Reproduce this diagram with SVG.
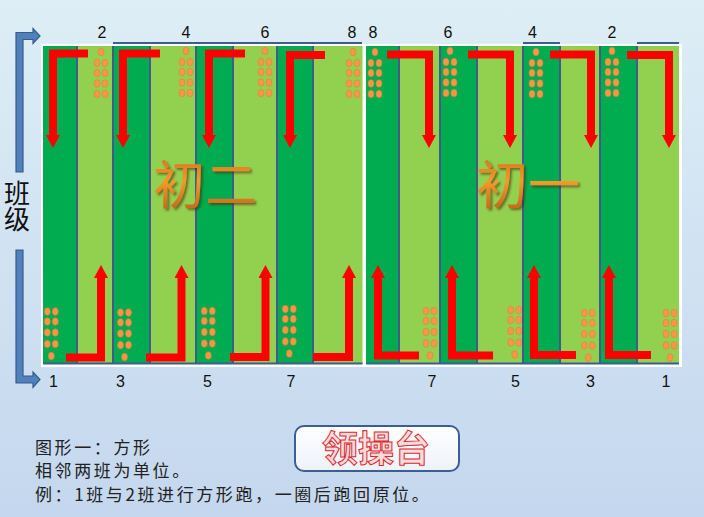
<svg xmlns="http://www.w3.org/2000/svg" width="704" height="517" viewBox="0 0 704 517">
<defs>
  <linearGradient id="bg" x1="0" y1="0" x2="0" y2="1">
    <stop offset="0" stop-color="#ddeef6"/>
    <stop offset="1" stop-color="#c4d7ee"/>
  </linearGradient>
  <linearGradient id="gold" x1="0" y1="0" x2="0" y2="1">
    <stop offset="0" stop-color="#c8621a"/>
    <stop offset="0.5" stop-color="#f39a2c"/>
    <stop offset="1" stop-color="#b4561a"/>
  </linearGradient>
  <linearGradient id="btn" x1="0" y1="0" x2="0" y2="1">
    <stop offset="0" stop-color="#ffffff"/>
    <stop offset="1" stop-color="#eef2f8"/>
  </linearGradient>
  <filter id="sh" x="-10%" y="-10%" width="130%" height="130%">
    <feDropShadow dx="2" dy="2" stdDeviation="0.8" flood-color="#4a2206" flood-opacity="0.55"/>
  </filter>
  <marker id="ah" markerUnits="userSpaceOnUse" markerWidth="14" markerHeight="14" refX="0" refY="7" orient="auto">
    <path d="M0,0 L13,7 L0,14 Z" fill="#ff0000"/>
  </marker>
  <g id="dotsTop">
    <ellipse cx="0" cy="0" rx="3" ry="3.8"/>
    <ellipse cx="-4" cy="11" rx="3" ry="3.8"/><ellipse cx="4" cy="11" rx="3" ry="3.8"/>
    <ellipse cx="-4" cy="21" rx="3" ry="3.8"/><ellipse cx="4" cy="21" rx="3" ry="3.8"/>
    <ellipse cx="-4" cy="31.5" rx="3" ry="3.8"/><ellipse cx="4" cy="31.5" rx="3" ry="3.8"/>
    <ellipse cx="-4" cy="42" rx="3" ry="3.8"/><ellipse cx="4" cy="42" rx="3" ry="3.8"/>
  </g>
  <g id="dotsBot">
    <ellipse cx="-4" cy="0" rx="3" ry="3.8"/><ellipse cx="4" cy="0" rx="3" ry="3.8"/>
    <ellipse cx="-4" cy="10" rx="3" ry="3.8"/><ellipse cx="4" cy="10" rx="3" ry="3.8"/>
    <ellipse cx="-4" cy="21" rx="3" ry="3.8"/><ellipse cx="4" cy="21" rx="3" ry="3.8"/>
    <ellipse cx="-4" cy="32.5" rx="3" ry="3.8"/><ellipse cx="4" cy="32.5" rx="3" ry="3.8"/>
    <ellipse cx="0" cy="44.5" rx="3" ry="3.8"/>
  </g>
</defs>
<style>
  .dk { fill: #00ac4f; }
  .lt { fill: #92d050; }
  .div { stroke: #3f5b8f; stroke-width: 2; fill: none; }
  .dots { fill: #f79646; stroke: #e47a35; stroke-width: 0.5; }
  .run { fill: none; stroke: #ff0000; stroke-width: 8; stroke-linejoin: miter; marker-end: url(#ah); }
  .num { font-family: "Liberation Sans", Arial, sans-serif; font-size: 16px; fill: #111; text-anchor: middle; }
  .cjk { font-family: "Noto Sans CJK SC", sans-serif; }
  .note { font-family: "Noto Sans CJK SC", sans-serif; font-size: 17px; fill: #222; letter-spacing: 2.6px; }
  .br { fill: #4f81bd; stroke: #385d8a; stroke-width: 1.2; stroke-linejoin: miter; }
  .vert { writing-mode: vertical-rl; }
</style>

<rect x="0" y="0" width="704" height="517" fill="url(#bg)"/>

<!-- field -->
<g id="field">
  <rect x="41" y="44" width="641" height="323" fill="#ffffff"/>
  <rect class="dk" x="43" y="46" width="34" height="318"/>
  <rect class="lt" x="77" y="46" width="36" height="318"/>
  <rect class="dk" x="113" y="46" width="37" height="318"/>
  <rect class="lt" x="150" y="46" width="46" height="318"/>
  <rect class="dk" x="196" y="46" width="37" height="318"/>
  <rect class="lt" x="233" y="46" width="44" height="318"/>
  <rect class="dk" x="277" y="46" width="36" height="318"/>
  <rect class="lt" x="313" y="46" width="49.5" height="318"/>
  <rect class="dk" x="366" y="46" width="33" height="318"/>
  <rect class="lt" x="399" y="46" width="41" height="318"/>
  <rect class="dk" x="440" y="46" width="37" height="318"/>
  <rect class="lt" x="477" y="46" width="46" height="318"/>
  <rect class="dk" x="523" y="46" width="37" height="318"/>
  <rect class="lt" x="560" y="46" width="40" height="318"/>
  <rect class="dk" x="600" y="46" width="37" height="318"/>
  <rect class="lt" x="637" y="46" width="42" height="318"/>
  <path class="div" d="M77,46V364 M113,46V364 M150,46V364 M196,46V364 M233,46V364 M277,46V364 M313,46V364 M399,46V364 M440,46V364 M477,46V364 M523,46V364 M560,46V364 M600,46V364 M637,46V364"/>
  <path class="div" d="M43,363.5H362.5 M366,363.5H679 M113,43H362 M523,43H560 M637,43H679"/>
</g>

<!-- people dots -->
<g id="dots" class="dots">
  <use href="#dotsTop" x="101" y="52"/>
  <use href="#dotsTop" x="186" y="51"/>
  <use href="#dotsTop" x="265" y="51"/>
  <use href="#dotsTop" x="353" y="52"/>
  <use href="#dotsTop" x="375" y="52"/>
  <use href="#dotsTop" x="450" y="51"/>
  <use href="#dotsTop" x="536" y="52"/>
  <use href="#dotsTop" x="612" y="51"/>
  <use href="#dotsBot" x="51.3" y="311.5"/>
  <use href="#dotsBot" x="124.5" y="312.5"/>
  <use href="#dotsBot" x="208.3" y="311"/>
  <use href="#dotsBot" x="289.3" y="309"/>
  <use href="#dotsBot" x="430" y="311"/>
  <use href="#dotsBot" x="514.7" y="310"/>
  <use href="#dotsBot" x="588.3" y="313"/>
  <use href="#dotsBot" x="670" y="313"/>
</g>

<!-- grade labels -->
<g id="grade2">
  <text class="cjk" x="205" y="204" font-size="52" text-anchor="middle" fill="url(#gold)" filter="url(#sh)">初二</text>
</g>
<g id="grade1">
  <text class="cjk" x="528" y="204" font-size="52" text-anchor="middle" fill="url(#gold)" filter="url(#sh)">初一</text>
</g>

<!-- running routes -->
<g id="connectors">
  <path class="run" d="M88,53.5H53V135"/>
  <path class="run" d="M160,53.5H123V135"/>
  <path class="run" d="M245,53.5H209V135"/>
  <path class="run" d="M325,55H290V135"/>
  <path class="run" d="M66,357.5H101V278"/>
  <path class="run" d="M146,357.5H181.5V278"/>
  <path class="run" d="M230,357H265.5V278"/>
  <path class="run" d="M313,357H349V278"/>
  <path class="run" d="M387,54.5H429V135"/>
  <path class="run" d="M468,54.5H510V135"/>
  <path class="run" d="M550,54.5H591V135"/>
  <path class="run" d="M627,55H669V135"/>
  <path class="run" d="M419,355.5H378V278"/>
  <path class="run" d="M493,355.5H452V278"/>
  <path class="run" d="M576,355H534V278"/>
  <path class="run" d="M651,355H609V278"/>
</g>

<!-- class numbers -->
<g id="numbers" class="num">
  <text x="102" y="37.5">2</text>
  <text x="186" y="37.5">4</text>
  <text x="265" y="37.5">6</text>
  <text x="352" y="37.5">8</text>
  <text x="373" y="37.5">8</text>
  <text x="448" y="37.5">6</text>
  <text x="532.5" y="37.5">4</text>
  <text x="612" y="37.5">2</text>
  <text x="53.5" y="387">1</text>
  <text x="120.5" y="387">3</text>
  <text x="207.5" y="387">5</text>
  <text x="291" y="387">7</text>
  <text x="432" y="387">7</text>
  <text x="515.5" y="387">5</text>
  <text x="590.5" y="387">3</text>
  <text x="666" y="387">1</text>
</g>

<!-- class axis bracket -->
<g id="axis">
  <path class="br" d="M16,172 V32.5 H33 V28.5 L40,36 L33,43.5 V39.5 H23 V172 Z"/>
  <path class="br" d="M16,250 V383 H33 V387.5 L40,379.5 L33,372 V376 H23 V250 Z"/>
  <text class="cjk vert" x="17" y="180" font-size="26" fill="#111">班级</text>
</g>

<!-- notes -->
<g id="notes">
  <text class="note" x="35" y="454">图形一：方形</text>
  <text class="note" x="35" y="477">相邻两班为单位。</text>
  <text class="note" x="35" y="501">例：1班与2班进行方形跑，一圈后跑回原位。</text>
</g>

<!-- stage -->
<g id="stage">
  <rect x="295" y="426" width="164" height="45" rx="9" fill="url(#btn)" stroke="#3b5f92" stroke-width="2"/>
  <text class="cjk" x="376" y="462" font-size="36" font-weight="700" text-anchor="middle" fill="#f8dcdc" stroke="#dc2a30" stroke-width="1">领操台</text>
</g>
</svg>
